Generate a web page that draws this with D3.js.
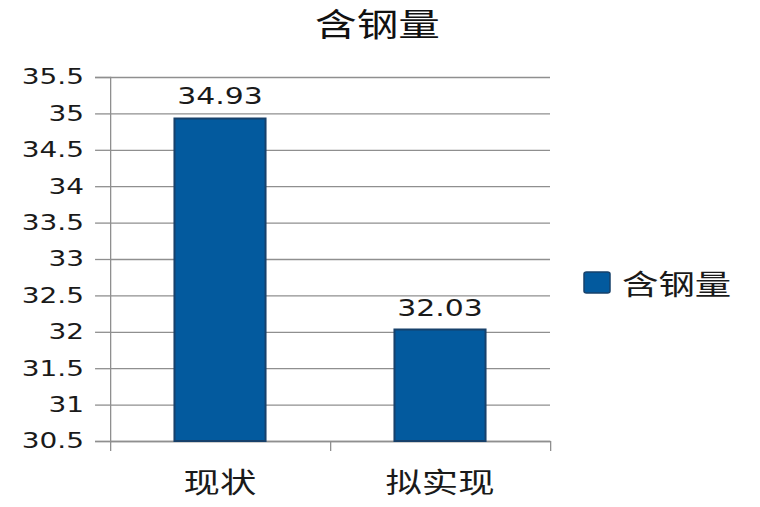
<!DOCTYPE html>
<html><head><meta charset="utf-8">
<script src="https://cdn.jsdelivr.net/npm/d3@7"></script>
<style>html,body{margin:0;padding:0;background:#fff;}</style>
</head><body>
<div id="chart"></div>
<script>
const title = "含钢量";
const seriesName = "含钢量";
const categories = ["现状", "拟实现"];
const values = [34.93, 32.03];
const yTicks = [30.5, 31, 31.5, 32, 32.5, 33, 33.5, 34, 34.5, 35, 35.5];

(function () {
const W = 760, H = 507, SX = 1.3;
const svg = d3.select("#chart").append("svg").attr("width", W).attr("height", H);
const g = svg.append("g").attr("transform", `scale(${SX},1)`);

const pLeft = 110 / SX, pRight = 550 / SX, pTop = 77, pBottom = 441;
const y = d3.scaleLinear().domain([30.5, 35.5]).range([pBottom, pTop]);
const x = d3.scaleBand().domain(categories).range([pLeft, pRight]).paddingInner(0.586).paddingOuter(0.293);
const xb = d3.scaleLinear().domain([0, categories.length]).range([pLeft, pRight]);

const numFont = "'DejaVu Sans', Verdana, sans-serif";
const cjkFont = "'Noto Sans CJK SC', sans-serif";

// grid
const grid = g.append("g").attr("transform", `translate(${pLeft},0)`)
  .call(d3.axisLeft(y).tickValues(yTicks).tickSize(-(pRight - pLeft)).tickFormat(""));
grid.select(".domain").remove();
grid.selectAll("line").attr("stroke", "#8f8f8f").attr("stroke-width", 1.3).attr("vector-effect", "non-scaling-stroke");

// y axis
const ya = g.append("g").attr("transform", `translate(${pLeft},0)`)
  .call(d3.axisLeft(y).tickValues(yTicks).tickSize(11.5).tickPadding(8.5).tickFormat(d => String(d)));
ya.selectAll("line,path").attr("stroke", "#8f8f8f").attr("stroke-width", 1.3).attr("vector-effect", "non-scaling-stroke");
ya.selectAll("text").attr("font-family", numFont).attr("font-size", 21.5).attr("fill", "#1a1a1a");

// x boundaries axis
const xa = g.append("g").attr("transform", `translate(0,${pBottom})`)
  .call(d3.axisBottom(xb).tickValues(d3.range(categories.length + 1)).tickSize(10).tickSizeOuter(0).tickFormat(""));
xa.selectAll("line,path").attr("stroke", "#8f8f8f").attr("stroke-width", 1.3).attr("vector-effect", "non-scaling-stroke");

// category labels
const xl = g.append("g").attr("transform", `translate(0,${pBottom})`)
  .call(d3.axisBottom(x).tickSize(0).tickPadding(40));
xl.select(".domain").remove();
xl.selectAll("text").attr("font-family", cjkFont).attr("font-size", 28).attr("fill", "#1a1a1a")
  .attr("dy", "0").attr("dominant-baseline", "central");

// bars
g.selectAll("rect.bar").data(values).enter().append("rect").attr("class", "bar")
  .attr("x", (d, i) => x(categories[i]))
  .attr("width", x.bandwidth())
  .attr("y", d => y(d))
  .attr("height", d => y(30.5) - y(d))
  .attr("fill", "#035A9E").attr("stroke", "#17416B").attr("stroke-width", 2)
  .attr("vector-effect", "non-scaling-stroke");

// data labels
g.selectAll("text.lbl").data(values).enter().append("text").attr("class", "lbl")
  .attr("x", (d, i) => x(categories[i]) + x.bandwidth() / 2)
  .attr("y", d => y(d) - 14)
  .attr("text-anchor", "middle")
  .attr("font-family", numFont).attr("font-size", 23).attr("fill", "#1a1a1a")
  .text(d => d.toFixed(2));

// title
g.append("text").attr("x", 377.5 / SX).attr("y", 22).attr("text-anchor", "middle")
  .attr("dominant-baseline", "central")
  .attr("font-family", cjkFont).attr("font-size", 32).attr("fill", "#111")
  .text(title);

// legend
const lg = g.append("g");
lg.append("rect").attr("x", 584 / SX).attr("y", 272).attr("width", 26 / SX).attr("height", 21)
  .attr("rx", 2).attr("fill", "#035A9E").attr("stroke", "#17416B").attr("stroke-width", 1.5)
  .attr("vector-effect", "non-scaling-stroke");
lg.append("text").attr("x", 622 / SX).attr("y", 283).attr("dominant-baseline", "central")
  .attr("font-family", cjkFont).attr("font-size", 28).attr("fill", "#1a1a1a")
  .text(seriesName);
})();
</script>
</body></html>
